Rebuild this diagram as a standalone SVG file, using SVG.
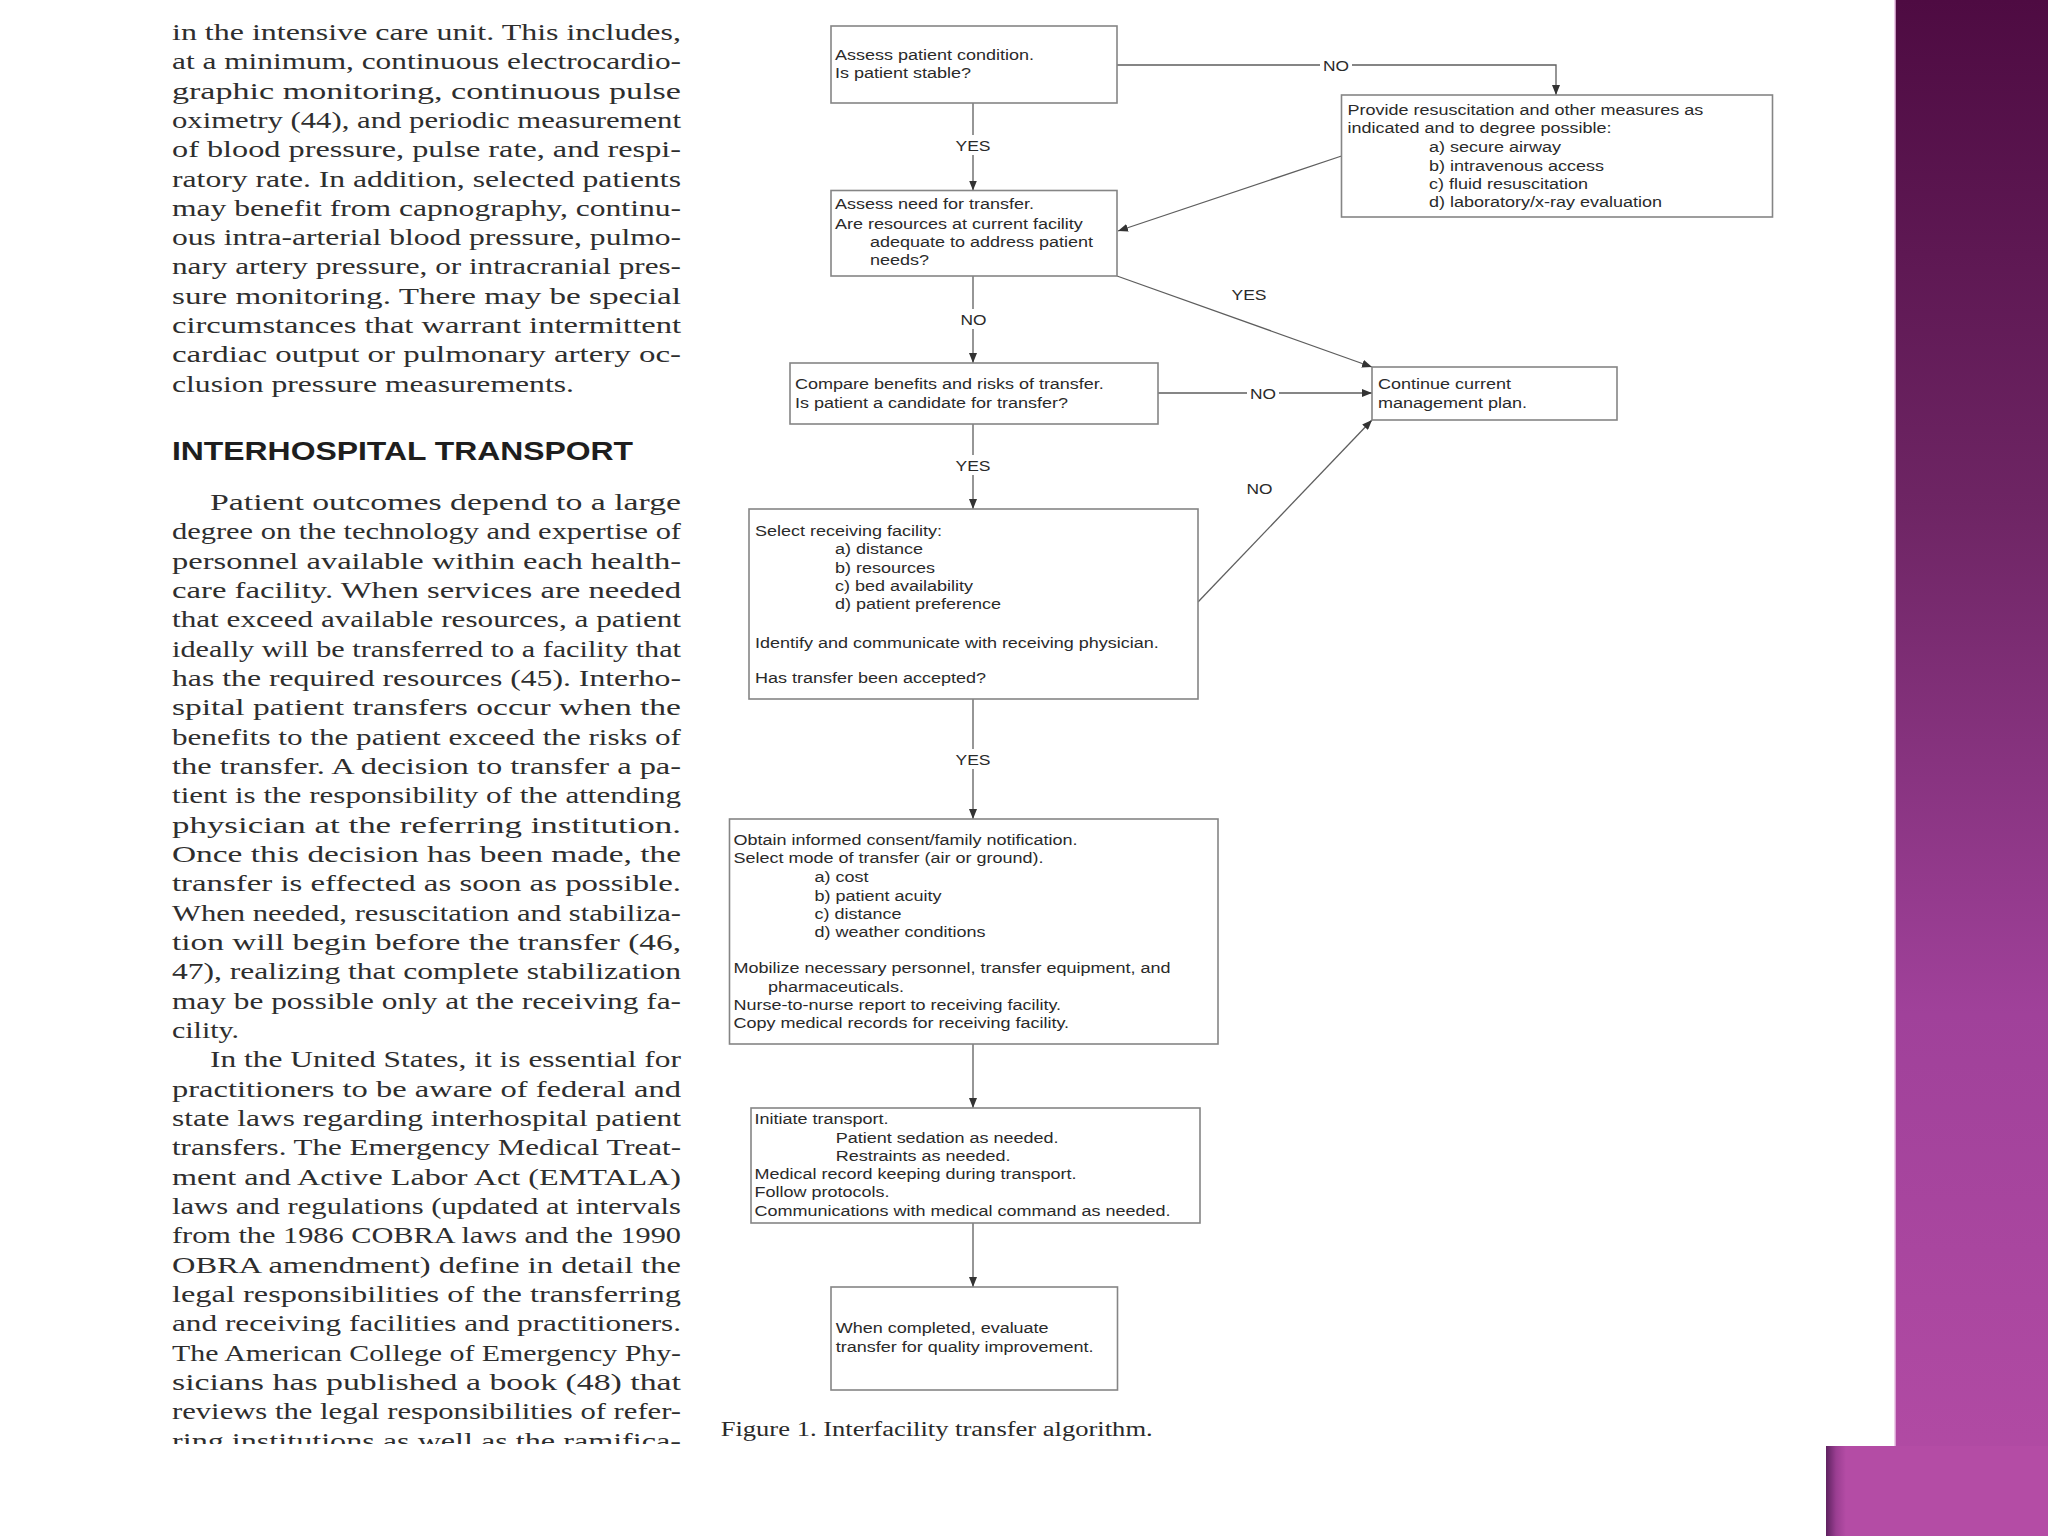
<svg xmlns="http://www.w3.org/2000/svg" width="2048" height="1536" viewBox="0 0 2048 1536">
<defs>
<linearGradient id="mag" x1="0" y1="0" x2="0" y2="1">
<stop offset="0" stop-color="#4e0b42"/>
<stop offset="0.33" stop-color="#6e2564"/>
<stop offset="0.66" stop-color="#a0419a"/>
<stop offset="1" stop-color="#b44ca5"/>
</linearGradient>
<linearGradient id="edge" x1="1826" y1="0" x2="1846" y2="0" gradientUnits="userSpaceOnUse">
<stop offset="0" stop-color="#5e2260"/>
<stop offset="0.5" stop-color="#9a3e91"/>
<stop offset="1" stop-color="#b44ca5"/>
</linearGradient>
<clipPath id="pageclip"><rect x="0" y="0" width="1895" height="1444"/></clipPath>
<marker id="arr" viewBox="0 0 10 8" refX="10" refY="4" markerWidth="10" markerHeight="8" markerUnits="userSpaceOnUse" orient="auto">
<path d="M0,0 L10,4 L0,8 z" fill="#333"/>
</marker>
<style>
.body{font-family:"Liberation Serif","Times New Roman",serif;font-size:23px;fill:#2e2e2e;}
.head{font-family:"Liberation Sans",Arial,sans-serif;font-size:25px;font-weight:bold;fill:#1e1e1e;}
.box{fill:#fff;stroke:#858585;stroke-width:1.6;}
.bt{font-family:"Liberation Sans",Arial,sans-serif;font-size:14.5px;fill:#2a2a2a;}
.lbl{font-family:"Liberation Sans",Arial,sans-serif;font-size:15px;fill:#2a2a2a;}
.con{fill:none;stroke:#5e5e5e;stroke-width:1.3;}
.bg{fill:#fff;}
.cap{font-family:"Liberation Serif","Times New Roman",serif;font-size:20px;fill:#2a2a2a;}
</style>
</defs>

<rect x="0" y="0" width="2048" height="1536" fill="#fff"/>

<g id="background-band">
<rect x="1895" y="0" width="153" height="1536" fill="url(#mag)"/>
<rect x="1826" y="1446" width="222" height="90" fill="url(#edge)"/>
<rect x="1895" y="1446" width="153" height="90" fill="#b44ca5"/>
<line x1="1895" y1="0" x2="1895" y2="1446" stroke="#e9bfe3" stroke-width="1.5"/>
</g>

<g id="body-text" clip-path="url(#pageclip)">
<text class="body" x="172" y="40" textLength="509" lengthAdjust="spacingAndGlyphs">in the intensive care unit. This includes,</text>
<text class="body" x="172" y="69.3" textLength="509" lengthAdjust="spacingAndGlyphs">at a minimum, continuous electrocardio-</text>
<text class="body" x="172" y="98.6" textLength="509" lengthAdjust="spacingAndGlyphs">graphic monitoring, continuous pulse</text>
<text class="body" x="172" y="127.9" textLength="509" lengthAdjust="spacingAndGlyphs">oximetry (44), and periodic measurement</text>
<text class="body" x="172" y="157.2" textLength="509" lengthAdjust="spacingAndGlyphs">of blood pressure, pulse rate, and respi-</text>
<text class="body" x="172" y="186.5" textLength="509" lengthAdjust="spacingAndGlyphs">ratory rate. In addition, selected patients</text>
<text class="body" x="172" y="215.8" textLength="509" lengthAdjust="spacingAndGlyphs">may benefit from capnography, continu-</text>
<text class="body" x="172" y="245.1" textLength="509" lengthAdjust="spacingAndGlyphs">ous intra-arterial blood pressure, pulmo-</text>
<text class="body" x="172" y="274.4" textLength="509" lengthAdjust="spacingAndGlyphs">nary artery pressure, or intracranial pres-</text>
<text class="body" x="172" y="303.7" textLength="509" lengthAdjust="spacingAndGlyphs">sure monitoring. There may be special</text>
<text class="body" x="172" y="333" textLength="509" lengthAdjust="spacingAndGlyphs">circumstances that warrant intermittent</text>
<text class="body" x="172" y="362.3" textLength="509" lengthAdjust="spacingAndGlyphs">cardiac output or pulmonary artery oc-</text>
<text class="body" x="172" y="391.6" textLength="402" lengthAdjust="spacingAndGlyphs">clusion pressure measurements.</text>

<text class="head" x="172" y="460" textLength="461" lengthAdjust="spacingAndGlyphs">INTERHOSPITAL  TRANSPORT</text>

<text class="body" x="210" y="510" textLength="471" lengthAdjust="spacingAndGlyphs">Patient outcomes depend to a large</text>
<text class="body" x="172" y="539.3" textLength="509" lengthAdjust="spacingAndGlyphs">degree on the technology and expertise of</text>
<text class="body" x="172" y="568.7" textLength="509" lengthAdjust="spacingAndGlyphs">personnel available within each health-</text>
<text class="body" x="172" y="598" textLength="509" lengthAdjust="spacingAndGlyphs">care facility. When services are needed</text>
<text class="body" x="172" y="627.3" textLength="509" lengthAdjust="spacingAndGlyphs">that exceed available resources, a patient</text>
<text class="body" x="172" y="656.7" textLength="509" lengthAdjust="spacingAndGlyphs">ideally will be transferred to a facility that</text>
<text class="body" x="172" y="686" textLength="509" lengthAdjust="spacingAndGlyphs">has the required resources (45). Interho-</text>
<text class="body" x="172" y="715.3" textLength="509" lengthAdjust="spacingAndGlyphs">spital patient transfers occur when the</text>
<text class="body" x="172" y="744.6" textLength="509" lengthAdjust="spacingAndGlyphs">benefits to the patient exceed the risks of</text>
<text class="body" x="172" y="774" textLength="509" lengthAdjust="spacingAndGlyphs">the transfer. A decision to transfer a pa-</text>
<text class="body" x="172" y="803.3" textLength="509" lengthAdjust="spacingAndGlyphs">tient is the responsibility of the attending</text>
<text class="body" x="172" y="832.6" textLength="509" lengthAdjust="spacingAndGlyphs">physician at the referring institution.</text>
<text class="body" x="172" y="862" textLength="509" lengthAdjust="spacingAndGlyphs">Once this decision has been made, the</text>
<text class="body" x="172" y="891.3" textLength="509" lengthAdjust="spacingAndGlyphs">transfer is effected as soon as possible.</text>
<text class="body" x="172" y="920.6" textLength="509" lengthAdjust="spacingAndGlyphs">When needed, resuscitation and stabiliza-</text>
<text class="body" x="172" y="950" textLength="509" lengthAdjust="spacingAndGlyphs">tion will begin before the transfer (46,</text>
<text class="body" x="172" y="979.3" textLength="509" lengthAdjust="spacingAndGlyphs">47), realizing that complete stabilization</text>
<text class="body" x="172" y="1008.6" textLength="509" lengthAdjust="spacingAndGlyphs">may be possible only at the receiving fa-</text>
<text class="body" x="172" y="1038" textLength="67" lengthAdjust="spacingAndGlyphs">cility.</text>
<text class="body" x="210" y="1067.3" textLength="471" lengthAdjust="spacingAndGlyphs">In the United States, it is essential for</text>
<text class="body" x="172" y="1096.6" textLength="509" lengthAdjust="spacingAndGlyphs">practitioners to be aware of federal and</text>
<text class="body" x="172" y="1126" textLength="509" lengthAdjust="spacingAndGlyphs">state laws regarding interhospital patient</text>
<text class="body" x="172" y="1155.3" textLength="509" lengthAdjust="spacingAndGlyphs">transfers. The Emergency Medical Treat-</text>
<text class="body" x="172" y="1184.6" textLength="509" lengthAdjust="spacingAndGlyphs">ment and Active Labor Act (EMTALA)</text>
<text class="body" x="172" y="1214" textLength="509" lengthAdjust="spacingAndGlyphs">laws and regulations (updated at intervals</text>
<text class="body" x="172" y="1243.3" textLength="509" lengthAdjust="spacingAndGlyphs">from the 1986 COBRA laws and the 1990</text>
<text class="body" x="172" y="1272.6" textLength="509" lengthAdjust="spacingAndGlyphs">OBRA amendment) define in detail the</text>
<text class="body" x="172" y="1302" textLength="509" lengthAdjust="spacingAndGlyphs">legal responsibilities of the transferring</text>
<text class="body" x="172" y="1331.3" textLength="509" lengthAdjust="spacingAndGlyphs">and receiving facilities and practitioners.</text>
<text class="body" x="172" y="1360.6" textLength="509" lengthAdjust="spacingAndGlyphs">The American College of Emergency Phy-</text>
<text class="body" x="172" y="1390" textLength="509" lengthAdjust="spacingAndGlyphs">sicians has published a book (48) that</text>
<text class="body" x="172" y="1419.3" textLength="509" lengthAdjust="spacingAndGlyphs">reviews the legal responsibilities of refer-</text>
<text class="body" x="172" y="1448.6" textLength="509" lengthAdjust="spacingAndGlyphs">ring institutions as well as the ramifica-</text>
</g>

<g id="connectors">
<path class="con" d="M1117,65 H1556 V95" marker-end="url(#arr)"/>
<path class="con" d="M973,103 V190.5" marker-end="url(#arr)"/>
<path class="con" d="M1341.5,156 L1118,231" marker-end="url(#arr)"/>
<path class="con" d="M973,276 V363" marker-end="url(#arr)"/>
<path class="con" d="M1117,276 L1372,367" marker-end="url(#arr)"/>
<path class="con" d="M1158,393 H1372" marker-end="url(#arr)"/>
<path class="con" d="M973,424 V509" marker-end="url(#arr)"/>
<path class="con" d="M1198,602 L1372,420" marker-end="url(#arr)"/>
<path class="con" d="M973,699 V819" marker-end="url(#arr)"/>
<path class="con" d="M973,1044 V1108" marker-end="url(#arr)"/>
<path class="con" d="M973,1223 V1287" marker-end="url(#arr)"/>
<rect class="bg" x="1320" y="56" width="32" height="18"/>
<text class="lbl" x="1323" y="70.5" textLength="26" lengthAdjust="spacingAndGlyphs">NO</text>
<rect class="bg" x="952" y="135" width="42" height="20"/>
<text class="lbl" x="955.5" y="151" textLength="35" lengthAdjust="spacingAndGlyphs">YES</text>
<rect class="bg" x="957" y="309" width="32" height="20"/>
<text class="lbl" x="960.5" y="324.5" textLength="26" lengthAdjust="spacingAndGlyphs">NO</text>
<text class="lbl" x="1231.5" y="299.5" textLength="35" lengthAdjust="spacingAndGlyphs">YES</text>
<rect class="bg" x="1247" y="384" width="32" height="18"/>
<text class="lbl" x="1250" y="398.5" textLength="26" lengthAdjust="spacingAndGlyphs">NO</text>
<rect class="bg" x="952" y="455" width="42" height="20"/>
<text class="lbl" x="955.5" y="471" textLength="35" lengthAdjust="spacingAndGlyphs">YES</text>
<text class="lbl" x="1246.5" y="494" textLength="26" lengthAdjust="spacingAndGlyphs">NO</text>
<rect class="bg" x="952" y="749" width="42" height="20"/>
<text class="lbl" x="955.5" y="765" textLength="35" lengthAdjust="spacingAndGlyphs">YES</text>
</g>

<g id="node-assess-condition">
<rect class="box" x="831" y="26" width="286" height="77"/>
<g transform="translate(835,0) scale(1.2414,1)">
<text class="bt" x="0" y="60">Assess patient condition.</text>
<text class="bt" x="0" y="78">Is patient stable?</text>
</g>
</g>

<g id="node-resuscitation">
<rect class="box" x="1341.5" y="95" width="431" height="122"/>
<g transform="translate(1347.5,0) scale(1.2414,1)">
<text class="bt" x="0" y="115.5">Provide resuscitation and other measures as</text>
<text class="bt" x="0" y="133.5">indicated and to degree possible:</text>
<text class="bt" x="65.7" y="152.5">a) secure airway</text>
<text class="bt" x="65.7" y="171">b) intravenous access</text>
<text class="bt" x="65.7" y="189">c) fluid resuscitation</text>
<text class="bt" x="65.7" y="207.5">d) laboratory/x-ray evaluation</text>
</g>
</g>

<g id="node-assess-need">
<rect class="box" x="831" y="190.5" width="286" height="85.5"/>
<g transform="translate(835,0) scale(1.2414,1)">
<text class="bt" x="0" y="209">Assess need for transfer.</text>
<text class="bt" x="0" y="229">Are resources at current facility</text>
<text class="bt" x="28.2" y="247.5">adequate to address patient</text>
<text class="bt" x="28.2" y="265.5">needs?</text>
</g>
</g>

<g id="node-compare">
<rect class="box" x="790" y="363" width="368" height="61"/>
<g transform="translate(795,0) scale(1.2414,1)">
<text class="bt" x="0" y="389.5">Compare benefits and risks of transfer.</text>
<text class="bt" x="0" y="408.5">Is patient a candidate for transfer?</text>
</g>
</g>

<g id="node-continue">
<rect class="box" x="1372" y="367" width="245" height="53"/>
<g transform="translate(1378,0) scale(1.2414,1)">
<text class="bt" x="0" y="389.5">Continue current</text>
<text class="bt" x="0" y="408">management plan.</text>
</g>
</g>

<g id="node-select-facility">
<rect class="box" x="749" y="509" width="449" height="190"/>
<g transform="translate(755,0) scale(1.2414,1)">
<text class="bt" x="0" y="535.7">Select receiving facility:</text>
<text class="bt" x="64.4" y="554.3">a) distance</text>
<text class="bt" x="64.4" y="572.7">b) resources</text>
<text class="bt" x="64.4" y="591">c) bed availability</text>
<text class="bt" x="64.4" y="609.3">d) patient preference</text>
<text class="bt" x="0" y="647.7">Identify and communicate with receiving physician.</text>
<text class="bt" x="0" y="683.3">Has transfer been accepted?</text>
</g>
</g>

<g id="node-consent">
<rect class="box" x="729.5" y="819" width="488.5" height="225"/>
<g transform="translate(733.6,0) scale(1.2414,1)">
<text class="bt" x="0" y="845">Obtain informed consent/family notification.</text>
<text class="bt" x="0" y="863.3">Select mode of transfer (air or ground).</text>
<text class="bt" x="65.2" y="881.7">a) cost</text>
<text class="bt" x="65.2" y="900.7">b) patient acuity</text>
<text class="bt" x="65.2" y="918.7">c) distance</text>
<text class="bt" x="65.2" y="936.7">d) weather conditions</text>
<text class="bt" x="0" y="973.3">Mobilize necessary personnel, transfer equipment, and</text>
<text class="bt" x="27.7" y="991.7">pharmaceuticals.</text>
<text class="bt" x="0" y="1010">Nurse-to-nurse report to receiving facility.</text>
<text class="bt" x="0" y="1028.3">Copy medical records for receiving facility.</text>
</g>
</g>

<g id="node-initiate">
<rect class="box" x="751" y="1108" width="449" height="115"/>
<g transform="translate(754.6,0) scale(1.2414,1)">
<text class="bt" x="0" y="1124.3">Initiate transport.</text>
<text class="bt" x="65.3" y="1142.7">Patient sedation as needed.</text>
<text class="bt" x="65.3" y="1161">Restraints as needed.</text>
<text class="bt" x="0" y="1179.3">Medical record keeping during transport.</text>
<text class="bt" x="0" y="1197.3">Follow protocols.</text>
<text class="bt" x="0" y="1216">Communications with medical command as needed.</text>
</g>
</g>

<g id="node-evaluate">
<rect class="box" x="831" y="1287" width="286.5" height="103"/>
<g transform="translate(835.7,0) scale(1.2414,1)">
<text class="bt" x="0" y="1333.3">When completed, evaluate</text>
<text class="bt" x="0" y="1351.7">transfer for quality improvement.</text>
</g>
</g>

<g id="caption">
<text class="cap" x="720.7" y="1436" textLength="432" lengthAdjust="spacingAndGlyphs">Figure 1. Interfacility transfer algorithm.</text>
</g>
</svg>
